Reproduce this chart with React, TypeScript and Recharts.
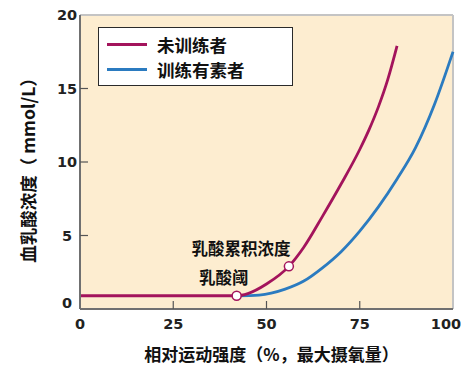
import {
  LineChart,
  Line,
  XAxis,
  YAxis,
  CartesianGrid,
  ReferenceLine,
  ReferenceDot,
  Legend,
  Label,
} from "recharts";

// 相对运动强度 (% VO2max) vs 血乳酸浓度 (mmol/L)
const untrainedX = [0, 42, 45, 50, 56, 60, 65, 70, 75, 77.5, 80, 82.5, 85];
const untrainedY = [0.9, 0.9, 1.05, 1.7, 2.9, 4.2, 6.3, 8.5, 10.85, 12.2, 13.75, 15.6, 17.9];

const trainedX = [42, 48, 55, 60, 65, 70, 75, 80, 85, 90, 95, 100];
const trainedY = [0.9, 0.95, 1.35, 1.9, 2.8, 3.9, 5.3, 6.95, 8.85, 11.0, 13.9, 17.5];

const markerX = [42, 56];
const markerY = [0.9, 2.9];
const markerLabels = ["乳酸阈", "乳酸累积浓度"];
const markerShift = [
  [-13, -19],
  [-48, -18],
];

const seriesNames = ["未训练者", "训练有素者"];
const seriesColors = ["#A3145C", "#2B7BC0"];

const xTicks = [0, 25, 50, 75, 100];
const yTicks = [0, 5, 10, 15, 20];

const untrainedData = untrainedX.map((x, i) => ({ x, y: untrainedY[i] }));
const trainedData = trainedX.map((x, i) => ({ x, y: trainedY[i] }));

const cjk = "'Noto Sans CJK SC', 'Noto Sans', sans-serif";
const num = "'DejaVu Sans', sans-serif";

function XTick(props: any) {
  const { x, y, payload } = props;
  const v = payload.value;
  const inner = v !== 0 && v !== 100;
  return (
    <g>
      {inner && <line x1={x} x2={x} y1={y} y2={y - 8} stroke="#555" strokeWidth={1.2} />}
      <text
        x={v === 100 ? x - 7 : x}
        y={y + 20}
        textAnchor="middle"
        fontFamily={num}
        fontSize={14.5}
        fontWeight="bold"
        fill="#222"
      >
        {v}
      </text>
    </g>
  );
}

function YTick(props: any) {
  const { x, y, payload } = props;
  const v = payload.value;
  const inner = v !== 0 && v !== 20;
  return (
    <g>
      {inner && <line x1={x} x2={x + 8} y1={y} y2={y} stroke="#555" strokeWidth={1.2} />}
      <text
        x={x - 13}
        y={v === 0 ? y - 6 : y}
        textAnchor="middle"
        dominantBaseline="central"
        fontFamily={num}
        fontSize={14.5}
        fontWeight="bold"
        fill="#222"
      >
        {v}
      </text>
    </g>
  );
}

function LegendBox() {
  return (
    <div
      style={{
        width: 195,
        height: 59,
        boxSizing: "border-box",
        border: "1.5px solid #2a2a2a",
        background: "#fff",
        padding: "4px 0 0 8px",
      }}
    >
      {seriesNames.map((name, i) => (
        <div key={name} style={{ display: "flex", alignItems: "center", height: 25 }}>
          <div style={{ width: 40, height: 3, background: seriesColors[i] }} />
          <span
            style={{
              marginLeft: 10,
              fontFamily: cjk,
              fontSize: 17.5,
              fontWeight: 700,
              color: "#111",
              lineHeight: "25px",
            }}
          >
            {name}
          </span>
        </div>
      ))}
    </div>
  );
}

export default function App() {
  return (
    <div style={{ width: 469, height: 387, background: "#fff" }}>
      <style>{"body{margin:0}"}</style>
      <LineChart
        width={469}
        height={387}
        margin={{ top: 15, right: 16, bottom: 0, left: 0 }}
      >
        <CartesianGrid horizontal={false} vertical={false} fill="#FDEDD0" />
        <XAxis
          type="number"
          dataKey="x"
          domain={[0, 100]}
          ticks={xTicks}
          height={78}
          tickSize={0}
          tickMargin={0}
          tick={<XTick />}
          axisLine={{ stroke: "#707070", strokeWidth: 2 }}
          tickLine={false}
          allowDuplicatedCategory={false}
        >
          <Label
            content={(p: any) => {
              const vb = p.viewBox;
              return (
                <text
                  x={vb.x + vb.width / 2 + 5}
                  y={vb.y + 52}
                  textAnchor="middle"
                  fontFamily={cjk}
                  fontSize={17}
                  fontWeight={700}
                  fill="#111"
                >
                  相对运动强度（%，最大摄氧量）
                </text>
              );
            }}
          />
        </XAxis>
        <YAxis
          type="number"
          domain={[0, 20]}
          ticks={yTicks}
          width={80}
          tickSize={0}
          tickMargin={0}
          tick={<YTick />}
          axisLine={{ stroke: "#707070", strokeWidth: 2 }}
          tickLine={false}
        >
          <Label
            content={(p: any) => {
              const vb = p.viewBox;
              const cx = 27;
              const cy = vb.y + vb.height / 2 + 4;
              return (
                <text
                  x={cx}
                  y={cy}
                  textAnchor="middle"
                  dominantBaseline="central"
                  transform={`rotate(-90 ${cx} ${cy})`}
                  fontFamily={cjk}
                  fontSize={17.5}
                  fontWeight={700}
                  fill="#111"
                >
                  血乳酸浓度（ mmol/L）
                </text>
              );
            }}
          />
        </YAxis>
        <ReferenceLine y={20} stroke="#c4c4c4" strokeWidth={2} />
        <ReferenceLine x={100} stroke="#c4c4c4" strokeWidth={2} />
        <Legend
          layout="vertical"
          align="center"
          verticalAlign="middle"
          content={<LegendBox />}
          wrapperStyle={{ left: 98, top: 27, width: 195, height: 59 }}
        />
        <Line
          data={trainedData}
          dataKey="y"
          name={seriesNames[1]}
          type="monotone"
          stroke={seriesColors[1]}
          strokeWidth={2.8}
          dot={false}
          activeDot={false}
          isAnimationActive={false}
        />
        <Line
          data={untrainedData}
          dataKey="y"
          name={seriesNames[0]}
          type="monotone"
          stroke={seriesColors[0]}
          strokeWidth={2.8}
          dot={false}
          activeDot={false}
          isAnimationActive={false}
        />
        {markerX.map((mx, i) => (
          <ReferenceDot
            key={mx}
            x={mx}
            y={markerY[i]}
            r={4.5}
            fill="#fff"
            stroke={seriesColors[0]}
            strokeWidth={1.5}
            label={(p: any) => {
              const vb = p.viewBox;
              const cx = vb.x + vb.width / 2 + markerShift[i][0];
              const cy = vb.y + vb.height / 2 + markerShift[i][1];
              return (
                <text
                  x={cx}
                  y={cy}
                  textAnchor="middle"
                  dominantBaseline="central"
                  fontFamily={cjk}
                  fontSize={16.5}
                  fontWeight={700}
                  fill="#111"
                >
                  {markerLabels[i]}
                </text>
              );
            }}
          />
        ))}
      </LineChart>
    </div>
  );
}
